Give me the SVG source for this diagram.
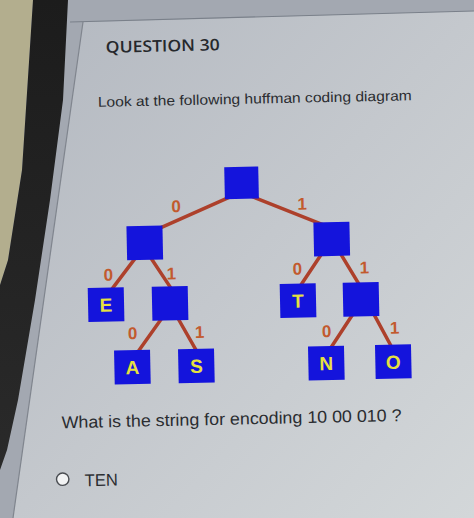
<svg xmlns="http://www.w3.org/2000/svg" width="474" height="518" viewBox="0 0 474 518">
  <defs>
    <linearGradient id="scr" x1="0" y1="0" x2="1" y2="1">
      <stop offset="0" stop-color="#b3b8c0"/>
      <stop offset="0.5" stop-color="#c4c8cd"/>
      <stop offset="1" stop-color="#d3d7d9"/>
    </linearGradient>
    <linearGradient id="bez" x1="0" y1="0" x2="0" y2="1">
      <stop offset="0" stop-color="#1c1c1c"/>
      <stop offset="1" stop-color="#2a2a2a"/>
    </linearGradient>
  </defs>
  <style>
    .box { fill: #1414dc; }
    .edge { stroke: #ad402b; stroke-width: 3.5; stroke-linecap: round; fill: none; }
    .elab { font-family: "Liberation Sans", Arial, sans-serif; font-size: 17px; font-weight: bold; fill: #c25a2e; text-anchor: middle; }
    .leaf { font-family: "Liberation Sans", Arial, sans-serif; font-size: 19px; font-weight: bold; fill: #e6e040; text-anchor: middle; }
    .txt { font-family: "Liberation Sans", Arial, sans-serif; fill: #2a2c30; }
    .title { font-family: "Open Sans", "Noto Sans", sans-serif; font-weight: 600; fill: #26282c; }
  </style>

  <!-- background: photographed screen -->
  <rect x="0" y="0" width="474" height="518" fill="#a3a8b1"/>
  <polygon points="83,22 474,11 474,518 13,518" fill="url(#scr)"/>
  <line x1="70" y1="22" x2="474" y2="11" stroke="#7a808a" stroke-width="1.2"/>
  <line x1="83" y1="22" x2="13" y2="518" stroke="#80858e" stroke-width="1.2"/>
  <polygon points="0,0 33,0 22,170 8,260 0,285" fill="#b3ae8e"/>
  <polygon points="33,0 68,0 63,100 50,200 35,300 18,400 7,450 0,470 0,285 8,260 22,170" fill="url(#bez)"/>

  <g transform="rotate(-1.2 237 300)">
    <g id="title">
      <text class="title" x="111" y="50" font-size="16" textLength="114" lengthAdjust="spacingAndGlyphs">QUESTION 30</text>
    </g>
    <g id="intro">
      <text class="txt" x="102" y="104" font-size="14" textLength="314" lengthAdjust="spacingAndGlyphs">Look at the following huffman coding diagram</text>
    </g>

    <g id="connectors">
      <line class="edge" x1="234" y1="196" x2="158" y2="228"/>
      <line class="edge" x1="252" y1="196" x2="328" y2="228"/>
      <line class="edge" x1="137" y1="255" x2="111" y2="288"/>
      <line class="edge" x1="151" y1="255" x2="172" y2="288"/>
      <line class="edge" x1="162" y1="316" x2="136" y2="351"/>
      <line class="edge" x1="177" y1="316" x2="196" y2="351"/>
      <line class="edge" x1="323" y1="255" x2="300" y2="288"/>
      <line class="edge" x1="341" y1="255" x2="360" y2="288"/>
      <line class="edge" x1="353" y1="316" x2="329" y2="351"/>
      <line class="edge" x1="373" y1="316" x2="391" y2="351"/>
      <text class="elab" x="178" y="211">0</text>
      <text class="elab" x="304" y="211">1</text>
      <text class="elab" x="109" y="278">0</text>
      <text class="elab" x="172" y="278">1</text>
      <text class="elab" x="132" y="337">0</text>
      <text class="elab" x="199" y="337">1</text>
      <text class="elab" x="298" y="276">0</text>
      <text class="elab" x="365" y="276">1</text>
      <text class="elab" x="326" y="339">0</text>
      <text class="elab" x="394" y="337">1</text>
    </g>

    <g id="root"><rect class="box" x="227" y="167" width="34" height="32"/></g>
    <g id="n0"><rect class="box" x="128" y="224" width="36" height="34"/></g>
    <g id="n1"><rect class="box" x="315" y="224" width="36" height="34"/></g>
    <g id="leafE"><rect class="box" x="88" y="285" width="36" height="34"/><text class="leaf" x="106" y="309">E</text></g>
    <g id="n01"><rect class="box" x="152" y="285" width="36" height="34"/></g>
    <g id="leafT"><rect class="box" x="280" y="285" width="36" height="34"/><text class="leaf" x="298" y="309">T</text></g>
    <g id="n11"><rect class="box" x="343" y="285" width="36" height="34"/></g>
    <g id="leafA"><rect class="box" x="113" y="348" width="36" height="34"/><text class="leaf" x="131" y="372">A</text></g>
    <g id="leafS"><rect class="box" x="177" y="348" width="36" height="34"/><text class="leaf" x="195" y="372">S</text></g>
    <g id="leafN"><rect class="box" x="307" y="348" width="36" height="34"/><text class="leaf" x="325" y="372">N</text></g>
    <g id="leafO"><rect class="box" x="374" y="348" width="36" height="34"/><text class="leaf" x="392" y="372">O</text></g>

    <g id="question">
      <text class="txt" x="59" y="424.5" font-size="17" textLength="340" lengthAdjust="spacingAndGlyphs">What is the string for encoding 10 00 010 ?</text>
    </g>
    <g id="option">
      <circle cx="59" cy="475.5" r="6.2" fill="#f2f3f4" stroke="#4a4d52" stroke-width="1.4"/>
      <text class="txt" x="81" y="483" font-size="17" textLength="33" lengthAdjust="spacingAndGlyphs">TEN</text>
    </g>
  </g>
</svg>
